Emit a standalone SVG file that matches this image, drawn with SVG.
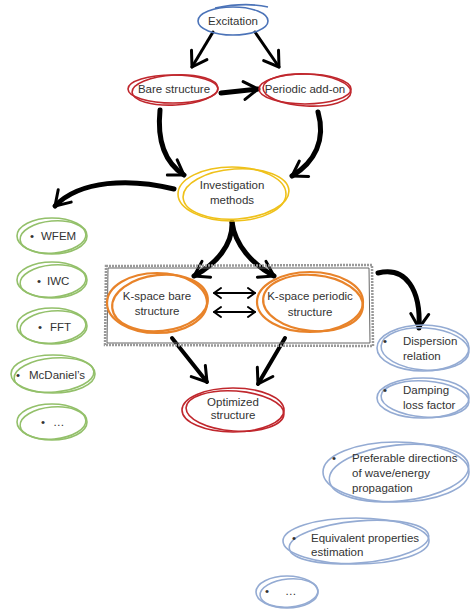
<svg xmlns="http://www.w3.org/2000/svg" width="474" height="612" viewBox="0 0 474 612">
<defs>
<marker id="ah" markerUnits="userSpaceOnUse" markerWidth="22" markerHeight="22" viewBox="0 0 22 22" refX="18" refY="11" orient="auto">
<path d="M4,2 L18,11 L4,20" fill="none" stroke="#000" stroke-width="3" stroke-linecap="round" stroke-linejoin="round"/>
</marker>
<marker id="ahs" markerUnits="userSpaceOnUse" markerWidth="14" markerHeight="14" viewBox="0 0 14 14" refX="12" refY="7" orient="auto-start-reverse">
<path d="M5,2 L12,7 L5,12" fill="none" stroke="#000" stroke-width="2" stroke-linecap="round" stroke-linejoin="round"/>
</marker>
</defs>
<style>
text{font-family:"Liberation Sans",Arial,sans-serif;font-size:11.5px;fill:#333}
.c{text-anchor:middle}
.e{fill:none;stroke-width:1.6}
.blue{stroke:#4b73b8}
.red{stroke:#c0272d}
.yel{stroke:#efc11a}
.grn{stroke:#93c06a}
.org{stroke:#e8832a;stroke-width:2.2}
.lb{stroke:#94abd3}
.arr{fill:none;stroke:#000;stroke-linecap:round}
</style>
<rect width="474" height="612" fill="#fff"/>

<g id="connectors">
<path class="arr" d="M213,32 L192,67" stroke-width="3" marker-end="url(#ah)"/>
<path class="arr" d="M255,32 L279,67" stroke-width="3" marker-end="url(#ah)"/>
<path class="arr" d="M221,93 L258,89" stroke-width="5" marker-end="url(#ah)"/>
<path class="arr" d="M160,110 C157,140 164,162 184,175" stroke-width="5" marker-end="url(#ah)"/>
<path class="arr" d="M318,112 C326,140 315,162 292,176" stroke-width="5" marker-end="url(#ah)"/>
<path class="arr" d="M174,189 C130,178 80,180 55,206" stroke-width="5" marker-end="url(#ah)"/>
<path class="arr" d="M232,222 C233,245 216,264 194,276" stroke-width="5" marker-end="url(#ah)"/>
<path class="arr" d="M232,222 C235,245 252,264 274,276" stroke-width="5" marker-end="url(#ah)"/>
<path class="arr" d="M172,338 L207,382" stroke-width="4" marker-end="url(#ah)"/>
<path class="arr" d="M285,338 L258,384" stroke-width="4" marker-end="url(#ah)"/>
<path class="arr" d="M378,273 C406,266 421,290 419,328" stroke-width="5" marker-end="url(#ah)"/>
<path class="arr" d="M214,293 L255,293" stroke-width="1.8" marker-start="url(#ahs)" marker-end="url(#ahs)"/>
<path class="arr" d="M214,312 L255,312" stroke-width="1.8" marker-start="url(#ahs)" marker-end="url(#ahs)"/>
</g>

<g id="kspace-box">
<path d="M106,266 L372,265 L373,346 L105,345 Z" fill="none" stroke="#999" stroke-width="2.5" stroke-dasharray="2 1"/>
<path d="M108,268 L369,268 L370,343 L107,343 Z" fill="none" stroke="#666" stroke-width="1"/>
</g>

<g id="excitation">
<ellipse class="e blue" cx="233" cy="21" rx="35" ry="14"/>
<path class="e blue" d="M215,8 C235,4 255,4 268,7" />
<text class="c" x="233" y="25">Excitation</text>
</g>

<g id="bare-structure">
<ellipse class="e red" cx="173" cy="89" rx="45" ry="14"/>
<ellipse class="e red" cx="175" cy="90" rx="43" ry="15" transform="rotate(-3 175 90)"/>
<text class="c" x="174" y="93">Bare structure</text>
</g>

<g id="periodic-add-on">
<ellipse class="e red" cx="305" cy="89" rx="46" ry="15"/>
<ellipse class="e red" cx="307" cy="90" rx="44" ry="16" transform="rotate(3 307 90)"/>
<text class="c" x="305" y="93">Periodic add-on</text>
</g>

<g id="investigation-methods">
<ellipse class="e yel" cx="232" cy="194" rx="54" ry="27"/>
<ellipse class="e yel" cx="236" cy="194" rx="53" ry="25" transform="rotate(-4 236 194)"/>
<text class="c" x="232" y="189">Investigation</text>
<text class="c" x="232" y="204">methods</text>
</g>

<g id="wfem">
<ellipse class="e grn" cx="52" cy="236" rx="35" ry="18"/>
<ellipse class="e grn" cx="53" cy="237" rx="33" ry="16" transform="rotate(-5 53 237)"/>
<text x="30" y="240">•</text><text x="41" y="240">WFEM</text>
</g>

<g id="iwc">
<ellipse class="e grn" cx="52" cy="280" rx="35" ry="18"/>
<ellipse class="e grn" cx="53" cy="281" rx="33" ry="16" transform="rotate(-5 53 281)"/>
<text x="37" y="285">•</text><text x="47" y="285">IWC</text>
</g>

<g id="fft">
<ellipse class="e grn" cx="52" cy="326" rx="35" ry="18"/>
<ellipse class="e grn" cx="53" cy="327" rx="33" ry="16" transform="rotate(-5 53 327)"/>
<text x="38" y="331">•</text><text x="50" y="331">FFT</text>
</g>

<g id="mcdaniels">
<ellipse class="e grn" cx="53" cy="374" rx="42" ry="19"/>
<ellipse class="e grn" cx="54" cy="375" rx="40" ry="17" transform="rotate(-5 54 375)"/>
<text x="16" y="379">•</text><text x="29" y="379">McDaniel’s</text>
</g>

<g id="etc-methods">
<ellipse class="e grn" cx="52" cy="422" rx="35" ry="18"/>
<ellipse class="e grn" cx="53" cy="423" rx="33" ry="16" transform="rotate(-5 53 423)"/>
<text x="41" y="426">•</text><text x="53" y="426">…</text>
</g>

<g id="kspace-bare">
<ellipse class="e org" cx="157" cy="303" rx="50" ry="30"/>
<ellipse class="e org" cx="160" cy="303" rx="48" ry="28" transform="rotate(-6 160 303)"/>
<text class="c" x="157" y="300">K-space bare</text>
<text class="c" x="157" y="315">structure</text>
</g>

<g id="kspace-periodic">
<ellipse class="e org" cx="310" cy="302" rx="53" ry="30"/>
<ellipse class="e org" cx="313" cy="303" rx="50" ry="28" transform="rotate(5 313 303)"/>
<text class="c" x="310" y="300">K-space periodic</text>
<text class="c" x="310" y="316">structure</text>
</g>

<g id="optimized-structure">
<ellipse class="e red" cx="233" cy="410" rx="51" ry="22"/>
<ellipse class="e red" cx="235" cy="411" rx="49" ry="20" transform="rotate(4 235 411)"/>
<text class="c" x="233" y="406">Optimized</text>
<text class="c" x="233" y="419">structure</text>
</g>

<g id="dispersion-relation">
<ellipse class="e lb" cx="423" cy="348" rx="46" ry="23"/>
<ellipse class="e lb" cx="425" cy="349" rx="44" ry="21" transform="rotate(4 425 349)"/>
<text x="383" y="345">•</text><text x="403" y="345">Dispersion</text>
<text x="403" y="360">relation</text>
</g>

<g id="damping-loss-factor">
<ellipse class="e lb" cx="423" cy="398" rx="46" ry="20"/>
<ellipse class="e lb" cx="425" cy="399" rx="44" ry="18" transform="rotate(4 425 399)"/>
<text x="383" y="394">•</text><text x="403" y="394">Damping</text>
<text x="403" y="409">loss factor</text>
</g>

<g id="preferable-directions">
<ellipse class="e lb" cx="396" cy="472" rx="73" ry="30"/>
<ellipse class="e lb" cx="399" cy="473" rx="70" ry="28" transform="rotate(-6 399 473)"/>
<text x="332" y="462">•</text><text x="352" y="462">Preferable directions</text>
<text x="352" y="477">of wave/energy</text>
<text x="352" y="492">propagation</text>
</g>

<g id="equivalent-properties">
<ellipse class="e lb" cx="356" cy="541" rx="73" ry="23"/>
<ellipse class="e lb" cx="359" cy="542" rx="70" ry="21" transform="rotate(-5 359 542)"/>
<text x="292" y="542">•</text><text x="311" y="542">Equivalent properties</text>
<text x="311" y="556">estimation</text>
</g>

<g id="etc-results">
<ellipse class="e lb" cx="287" cy="592" rx="31" ry="16"/>
<ellipse class="e lb" cx="289" cy="593" rx="29" ry="14" transform="rotate(-5 289 593)"/>
<text x="265" y="595">•</text><text x="285" y="595">…</text>
</g>
</svg>
